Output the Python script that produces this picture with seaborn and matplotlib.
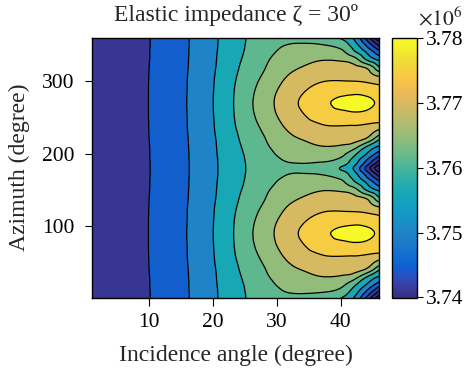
import numpy as np
import matplotlib
matplotlib.use("Agg")
import matplotlib.pyplot as plt
import matplotlib.tri as mtri
from matplotlib.colors import LinearSegmentedColormap, Normalize
from matplotlib.cm import ScalarMappable
import seaborn as sns

# ---------------- data (EI in units of 10^6) ----------------
incidence_deg = [1, 4, 7, 10, 13, 16, 19, 22, 25, 28, 31, 34, 37, 40, 42, 44, 46]
# azimuths of the first quarter (trough at 0, lobe centre at 90); chart is symmetric
azimuth_quarter_deg = [0, 5, 10, 15, 20, 30, 40, 50, 60, 75, 90]

ei_az000 = [3.74153, 3.74198, 3.74297, 3.74443, 3.74639, 3.74878, 3.75170, 3.75485, 3.75791, 3.76025, 3.76160, 3.76196, 3.76093, 3.75764, 3.75328, 3.74338, 3.73055]
ei_az005 = [3.74153, 3.74198, 3.74297, 3.74443, 3.74639, 3.74878, 3.75170, 3.75485, 3.75791, 3.76039, 3.76196, 3.76232, 3.76178, 3.75940, 3.75463, 3.74590, 3.73550]
ei_az010 = [3.74153, 3.74198, 3.74297, 3.74443, 3.74639, 3.74878, 3.75170, 3.75490, 3.75800, 3.76057, 3.76241, 3.76277, 3.76268, 3.76097, 3.75611, 3.74860, 3.73924]
ei_az015 = [3.74153, 3.74198, 3.74297, 3.74446, 3.74639, 3.74882, 3.75175, 3.75494, 3.75809, 3.76084, 3.76282, 3.76340, 3.76358, 3.76246, 3.75760, 3.75098, 3.74302]
ei_az020 = [3.74153, 3.74198, 3.74297, 3.74446, 3.74639, 3.74882, 3.75179, 3.75503, 3.75823, 3.76106, 3.76327, 3.76399, 3.76457, 3.76376, 3.75935, 3.75350, 3.74644]
ei_az030 = [3.74153, 3.74198, 3.74297, 3.74448, 3.74644, 3.74887, 3.75184, 3.75521, 3.75863, 3.76169, 3.76426, 3.76552, 3.76678, 3.76651, 3.76466, 3.75800, 3.75287]
ei_az040 = [3.74153, 3.74198, 3.74297, 3.74452, 3.74648, 3.74891, 3.75193, 3.75539, 3.75908, 3.76223, 3.76520, 3.76709, 3.76876, 3.76867, 3.76813, 3.76601, 3.75800]
ei_az050 = [3.74153, 3.74198, 3.74297, 3.74455, 3.74648, 3.74900, 3.75206, 3.75566, 3.75953, 3.76286, 3.76615, 3.76871, 3.77029, 3.77024, 3.77011, 3.76903, 3.76507]
ei_az060 = [3.74153, 3.74198, 3.74297, 3.74457, 3.74653, 3.74905, 3.75215, 3.75589, 3.76003, 3.76358, 3.76714, 3.77002, 3.77141, 3.77164, 3.77159, 3.77123, 3.77015]
ei_az075 = [3.74153, 3.74198, 3.74297, 3.74459, 3.74657, 3.74909, 3.75224, 3.75611, 3.76052, 3.76453, 3.76831, 3.77128, 3.77348, 3.77438, 3.77506, 3.77479, 3.77375]
ei_az090 = [3.74153, 3.74198, 3.74297, 3.74459, 3.74657, 3.74914, 3.75229, 3.75620, 3.76070, 3.76498, 3.76880, 3.77218, 3.77488, 3.77735, 3.77803, 3.77713, 3.77533]

contour_levels = [3.7355, 3.7400, 3.7445, 3.7490, 3.7535, 3.7580, 3.7625, 3.7670, 3.7715, 3.7760]
cbar_ticks = [3.74, 3.75, 3.76, 3.77, 3.78]
x_ticks = [10, 20, 30, 40]
y_ticks = [100, 200, 300]

title_text = "Elastic impedance \u03b6 = 30\u00ba"
x_label = "Incidence angle (degree)"
y_label = "Azimuth (degree)"

# ---------------- assemble full azimuth range by symmetry ----------------
rows_q = [ei_az000, ei_az005, ei_az010, ei_az015, ei_az020, ei_az030,
          ei_az040, ei_az050, ei_az060, ei_az075, ei_az090]
az_half = list(azimuth_quarter_deg) + [180 - a for a in azimuth_quarter_deg[-2::-1]]
rows_half = rows_q + rows_q[-2::-1]
az_full = az_half + [180 + a for a in az_half[1:]]
rows_full = rows_half + rows_half[1:]

Z = np.array(rows_full)
X, Y = np.meshgrid(np.array(incidence_deg, float), np.array(az_full, float))
ny, nx = Z.shape

yscale = 8.0
tris = []
for j in range(ny - 1):
    for i in range(nx - 1):
        a = j * nx + i
        b = a + 1
        c = a + nx
        d = c + 1
        tris.append([a, b, d])
        tris.append([a, d, c])
tri = mtri.Triangulation(X.ravel(), Y.ravel() / yscale, np.array(tris))
interp = mtri.CubicTriInterpolator(tri, Z.ravel(), kind="min_E")
refiner = mtri.UniformTriRefiner(tri)
tri_f, z_f = refiner.refine_field(Z.ravel(), triinterpolator=interp, subdiv=4)
tri_plot = mtri.Triangulation(tri_f.x, tri_f.y * yscale, tri_f.triangles)

# ---------------- parula colormap ----------------
parula_rgb = [
    [0.2081, 0.1663, 0.5292], [0.2123, 0.2138, 0.6270], [0.1959, 0.2645, 0.7279],
    [0.1253, 0.3242, 0.8303], [0.0117, 0.3875, 0.8820], [0.0165, 0.4266, 0.8786],
    [0.0498, 0.4586, 0.8641], [0.0723, 0.4887, 0.8467], [0.0793, 0.5200, 0.8312],
    [0.0641, 0.5570, 0.8240], [0.0343, 0.5966, 0.8199], [0.0239, 0.6287, 0.8038],
    [0.0228, 0.6535, 0.7768], [0.0384, 0.6743, 0.7436], [0.0843, 0.6928, 0.7062],
    [0.1453, 0.7098, 0.6646], [0.2178, 0.7250, 0.6193], [0.3022, 0.7376, 0.5712],
    [0.3953, 0.7459, 0.5244], [0.4871, 0.7491, 0.4840], [0.5709, 0.7485, 0.4494],
    [0.6473, 0.7456, 0.4188], [0.7184, 0.7411, 0.3905], [0.7858, 0.7356, 0.3633],
    [0.8507, 0.7299, 0.3360], [0.9140, 0.7258, 0.3063], [0.9739, 0.7314, 0.2666],
    [0.9990, 0.7653, 0.2164], [0.9880, 0.8066, 0.1794], [0.9697, 0.8481, 0.1475],
    [0.9589, 0.8949, 0.1132], [0.9661, 0.9514, 0.0755], [0.9763, 0.9831, 0.0538],
]


def soften(rgb, s=0.12):
    g = 0.3 * rgb[0] + 0.59 * rgb[1] + 0.11 * rgb[2]
    return [c * (1 - s) + g * s for c in rgb[:3]]


parula = LinearSegmentedColormap.from_list("parula", [soften(c) for c in parula_rgb], N=256)
# colour position of each filled band (lowest band first)
band_pos = [0.0, 0.0, 0.03, 0.12, 0.26, 0.41, 0.54, 0.62, 0.75, 0.87, 1.0]
band_colors = [parula(p) for p in band_pos]

# ---------------- style ----------------
sns.set_style("ticks")
plt.rcParams["font.family"] = ["Liberation Serif", "DejaVu Serif"]
plt.rcParams["mathtext.fontset"] = "stix"

fig = plt.figure(figsize=(4.74, 3.72), dpi=100)
ax = fig.add_axes([92 / 474, (372 - 297.5) / 372, (379 - 92) / 474, (297.5 - 38) / 372])

norm = Normalize(vmin=3.74, vmax=3.78)
fill_levels = [3.70] + contour_levels + [3.80]
ax.tricontourf(tri_plot, z_f, levels=fill_levels, colors=band_colors)
ax.tricontour(tri_plot, z_f, levels=contour_levels, colors="k", linewidths=0.9)

ax.set_xlim(1, 46)
ax.set_ylim(2, 360)
ax.set_xticks(x_ticks)
ax.set_yticks(y_ticks)
ax.tick_params(direction="out", length=5.4, width=0.8, labelsize=15.5, colors="k")
ax.tick_params(axis="x", pad=5.5)
ax.tick_params(axis="y", pad=7.5)
for s in ax.spines.values():
    s.set_linewidth(1.0)
    s.set_color("k")
ax.set_title(title_text, fontsize=17, y=1.066, pad=0)
ax.set_xlabel(x_label, fontsize=17)
ax.set_ylabel(y_label, fontsize=17)
ax.xaxis.set_label_coords(0.5, -0.183)
ax.yaxis.set_label_coords(-0.215, 0.5)

cax = fig.add_axes([392 / 474, (372 - 297.5) / 372, 25 / 474, (297.5 - 38) / 372])
cax.set_facecolor(parula(0.0))
sm = ScalarMappable(norm=norm, cmap=parula)
cb = fig.colorbar(sm, cax=cax)
cb.solids.set_edgecolor("face")
cb.set_ticks(cbar_ticks)
cb.set_ticklabels([f"{t:.2f}" for t in cbar_ticks])
cb.ax.tick_params(direction="out", length=4.5, width=0.8, labelsize=15.5, colors="k", pad=2)
cb.outline.set_linewidth(1.0)
cb.outline.set_edgecolor("k")
cax.text(1.05, 1.03, r"$\times10^{6}$", transform=cax.transAxes, fontsize=15.5,
         ha="left", va="bottom")

fig.savefig("out.png", dpi=100)
